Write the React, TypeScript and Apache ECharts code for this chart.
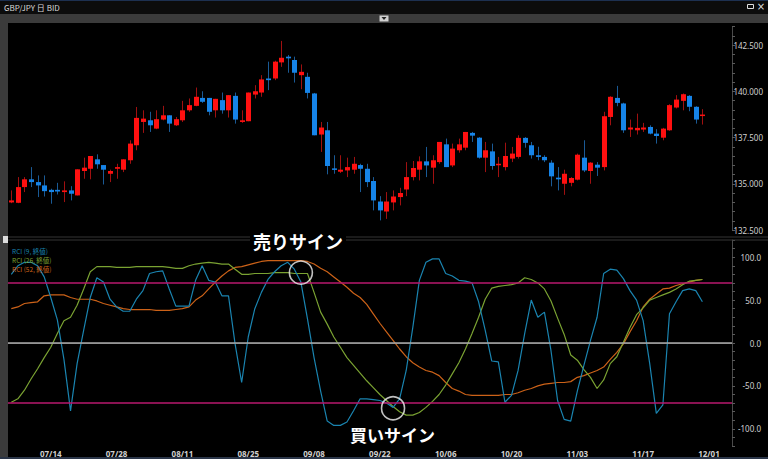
import React, { useEffect, useRef } from 'react';
import * as echarts from 'echarts';

// ---- data ----
const tickLabels = ['07/14', '07/28', '08/11', '08/25', '09/08', '09/22', '10/06', '10/20', '11/03', '11/17', '12/01'];

const opens = [133.99, 133.97, 134.82, 135.24, 135.09, 134.91, 134.67, 134.67, 134.55, 134.64, 134.37, 135.69, 135.81, 136.32, 136.01, 135.54, 135.81, 135.76, 136.27, 137.08, 138.34, 138.43, 137.98, 138.47, 138.70, 138.16, 138.43, 138.97, 139.21, 139.64, 139.64, 138.97, 139.52, 138.97, 139.75, 138.34, 138.38, 139.82, 139.93, 140.69, 140.69, 141.56, 141.87, 141.69, 140.87, 140.78, 139.88, 137.66, 137.89, 135.83, 135.65, 135.72, 135.76, 136.01, 135.81, 135.15, 134.04, 133.50, 133.99, 134.28, 134.69, 135.36, 135.76, 136.21, 135.87, 136.17, 137.13, 135.99, 136.81, 136.95, 137.75, 137.49, 136.41, 136.75, 136.03, 135.90, 136.36, 136.45, 137.48, 137.08, 136.54, 136.45, 136.14, 135.33, 135.00, 135.05, 135.22, 136.41, 135.69, 136.03, 135.90, 138.61, 139.64, 139.34, 137.93, 137.89, 137.93, 138.07, 137.71, 137.49, 137.89, 139.12, 139.48, 139.75, 139.16, 138.69];
const closes = [134.10, 134.82, 135.24, 135.09, 134.91, 134.60, 134.55, 134.58, 134.64, 134.46, 135.78, 135.87, 136.50, 136.05, 135.76, 135.69, 135.90, 136.32, 137.17, 138.56, 138.52, 138.16, 138.49, 138.70, 138.25, 138.49, 138.97, 139.25, 139.70, 139.43, 138.89, 139.59, 138.97, 139.79, 138.47, 138.43, 139.93, 140.00, 140.64, 140.60, 141.60, 141.81, 141.78, 141.00, 141.05, 139.91, 137.62, 138.04, 135.96, 135.78, 135.76, 135.90, 136.08, 135.81, 135.09, 134.10, 133.56, 134.04, 134.31, 134.50, 135.36, 135.85, 136.21, 135.99, 136.27, 137.26, 135.90, 136.90, 137.13, 137.80, 137.60, 136.41, 136.81, 135.96, 136.08, 136.50, 136.63, 137.48, 137.21, 136.54, 136.45, 136.27, 135.40, 135.24, 135.54, 135.31, 136.57, 135.72, 136.14, 135.87, 138.65, 139.70, 139.37, 137.89, 138.04, 138.02, 138.04, 137.71, 137.58, 137.98, 139.25, 139.55, 139.84, 139.16, 138.47, 138.74];
const lows = [133.95, 133.95, 134.55, 134.82, 134.28, 134.31, 133.92, 134.42, 134.01, 134.10, 134.37, 135.27, 135.24, 135.81, 134.96, 135.09, 135.27, 135.63, 136.08, 136.81, 137.75, 137.80, 137.95, 138.43, 137.80, 138.12, 138.34, 138.89, 139.19, 139.37, 138.70, 138.58, 138.79, 138.58, 138.25, 138.29, 138.38, 139.61, 139.70, 140.06, 140.60, 141.32, 141.00, 140.47, 140.11, 139.61, 137.62, 136.72, 135.51, 135.54, 135.58, 135.36, 135.54, 134.55, 134.82, 133.56, 133.02, 133.10, 133.56, 133.83, 134.33, 135.18, 135.18, 135.36, 135.00, 136.08, 135.90, 135.90, 136.68, 136.81, 137.26, 136.36, 135.63, 135.76, 135.36, 135.72, 136.17, 136.36, 136.95, 136.36, 136.27, 136.17, 134.86, 134.64, 134.40, 134.86, 135.18, 135.63, 135.00, 135.42, 135.72, 138.16, 139.19, 137.75, 137.53, 137.66, 137.80, 137.67, 137.17, 137.35, 137.86, 139.07, 138.97, 138.92, 138.25, 138.20];
const highs = [134.64, 135.36, 135.36, 135.90, 135.45, 135.45, 134.73, 135.05, 135.13, 134.87, 135.78, 136.41, 136.50, 136.59, 136.01, 135.76, 136.08, 136.32, 137.35, 139.15, 138.97, 138.89, 138.97, 139.21, 138.70, 138.61, 139.48, 139.61, 140.20, 140.00, 139.64, 139.59, 139.93, 139.79, 139.93, 138.97, 139.93, 140.33, 140.87, 141.60, 141.65, 142.72, 141.96, 141.87, 141.45, 141.00, 139.91, 138.34, 138.34, 136.54, 136.54, 136.41, 136.45, 136.08, 136.08, 135.36, 134.33, 134.55, 134.64, 134.78, 136.17, 136.23, 136.48, 136.99, 136.54, 137.26, 137.44, 137.17, 137.44, 137.80, 137.80, 137.52, 137.26, 137.17, 136.45, 137.22, 136.99, 137.62, 137.52, 137.26, 137.00, 136.54, 136.27, 135.90, 135.76, 135.36, 136.63, 137.35, 136.17, 136.17, 138.89, 139.73, 140.29, 139.38, 138.47, 138.79, 138.29, 138.16, 137.95, 138.02, 139.30, 139.79, 139.88, 139.79, 139.19, 139.03];

const rci9 = [80, 90, 94, 94, 90, 77, 53, 27, -19, -79, -24, 15, 53, 76, 71, 51, 42, 37, 37, 51, 61, 81, 83, 84, 63, 43, 43, 43, 73, 90, 73, 71, 55, 55, -1, -46, 7, 40, 59, 74, 83, 90, 94, 86, 71, 28, -17, -56, -91, -96, -96, -92, -79, -65, -65, -66, -67, -70, -75, -65, -32, 18, 73, 94, 98, 98, 81, 78, 73, 72, 70, 48, 15, -21, -22, -69, -61, -32, 11, 50, 30, 36, -9, -67, -89, -91, -56, -26, 3, 30, 81, 86, 85, 75, 61, 50, 26, -24, -82, -72, 34, 48, 61, 63, 61, 48];
const rci26 = [-69, -65, -55, -42, -30, -17, -5, 11, 26, 30, 44, 63, 83, 89, 89, 89, 88, 88, 88, 89, 89, 89, 89, 89, 88, 87, 87, 90, 92, 93, 94, 93, 92, 92, 86, 80, 80, 81, 81, 81, 82, 82, 82, 81, 81, 81, 59, 36, 22, 7, -5, -17, -26, -35, -44, -52, -60, -67, -74, -80, -84, -84, -81, -75, -68, -60, -49, -36, -23, -7, 11, 30, 51, 64, 66, 67, 68, 70, 76, 74, 70, 63, 49, 29, 10, -14, -20, -31, -40, -53, -43, -24, -16, 1, 18, 33, 41, 50, 53, 56, 59, 63, 68, 72, 73, 74];
const rci52 = [40, 42, 46, 47, 48, 55, 56, 56, 56, 53, 51, 51, 51, 49, 46, 44, 42, 40, 39, 39, 39, 39, 38, 38, 38, 39, 40, 42, 50, 55, 63, 71, 78, 84, 88, 89, 91, 93, 95, 96, 96, 96, 96, 96, 96, 95, 92, 87, 83, 77, 71, 65, 58, 53, 45, 34, 23, 13, 3, -7, -16, -23, -28, -32, -34, -38, -46, -53, -56, -60, -61, -61, -61, -61, -61, -60, -60, -58, -55, -53, -50, -48, -47, -46, -46, -45, -40, -38, -35, -32, -28, -19, -11, -1, 13, 26, 42, 51, 57, 63, 64, 67, 69, 71, 73, 74];

const signalLevels = [70, -70];
const sellSign = [44, 82];
const buySign = [58, -76];

// weekday categories from 2020-07-06 (incl. a few empty future days)
const dates: string[] = [];
{
  const d = new Date(Date.UTC(2020, 6, 6));
  while (dates.length < 110) {
    const wd = d.getUTCDay();
    if (wd !== 0 && wd !== 6) {
      const mm = String(d.getUTCMonth() + 1).padStart(2, '0');
      const dd = String(d.getUTCDate()).padStart(2, '0');
      dates.push(`${mm}/${dd}`);
    }
    d.setUTCDate(d.getUTCDate() + 1);
  }
}

const C_UP = '#ff1010';
const C_DOWN = '#1684e8';
const W_UP = '#a01010';
const W_DOWN = '#1a5a95';
const C9 = '#1a84b0';
const C26 = '#7aa232';
const C52 = '#cc6218';
const MAGENTA = '#b8186e';
const AX = '#4a4a4a';
const LBL = '#d0d0d0';

export default function App() {
  const ref = useRef<HTMLDivElement>(null);
  useEffect(() => {
    const chart = echarts.init(ref.current!, null, { renderer: 'svg' });
    const candleData = opens.map((o, i) => [i, o, closes[i], lows[i], highs[i]]);
    const showTick = (idx: number, val: string) => tickLabels.includes(val);

    const option: any = {
      animation: false,
      backgroundColor: '#000',
      grid: [
        { left: 8, top: 26.5, width: 724, height: 203.5 },
        { left: 8, top: 240, width: 724, height: 206 },
        { left: 8, top: 240, width: 724, height: 206 },
      ],
      xAxis: [
        { type: 'category', gridIndex: 0, data: dates, show: false },
        {
          type: 'category', gridIndex: 1, data: dates,
          axisLine: { lineStyle: { color: '#5a5a5a' } },
          axisTick: { inside: true, length: 5, alignWithLabel: true, interval: showTick, lineStyle: { color: '#6a6a6a' } },
          axisLabel: { interval: showTick, color: LBL, fontSize: 8, fontWeight: 'bold', margin: 3, fontFamily: 'Noto Sans' },
          splitLine: { show: false },
        },
        {
          type: 'category', gridIndex: 2, data: dates,
          axisLine: { show: false },
          axisTick: { inside: true, length: 2, alignWithLabel: true, interval: 1, lineStyle: { color: '#5a5a5a' } },
          axisLabel: { show: false },
          splitLine: { show: false },
        },
      ],
      yAxis: [
        {
          type: 'value', gridIndex: 0, position: 'right', min: 132.5, max: 143.5, interval: 0.5,
          axisLine: { show: true, lineStyle: { color: AX } },
          axisTick: { show: true, length: 3, lineStyle: { color: '#5a5a5a' } },
          axisLabel: {
            color: LBL, fontSize: 8, align: 'right', margin: 31, fontFamily: 'Noto Sans',
            formatter: (v: number) => (Math.abs(v / 2.5 - Math.round(v / 2.5)) < 1e-6 ? v.toFixed(3) : ''),
          },
          splitLine: { show: false },
        },
        {
          type: 'value', gridIndex: 1, position: 'right', min: -120, max: 120, interval: 10,
          axisLine: { show: true, lineStyle: { color: AX } },
          axisTick: { show: true, length: 3, lineStyle: { color: '#5a5a5a' } },
          axisLabel: {
            color: LBL, fontSize: 8, align: 'right', margin: 29, fontFamily: 'Noto Sans',
            formatter: (v: number) => (Math.abs(v) <= 100 && Math.round(v) % 50 === 0 ? v.toFixed(1) : ''),
          },
          splitLine: { show: false },
        },
        { type: 'value', gridIndex: 2, min: -120, max: 120, show: false },
      ],
      series: [
        {
          type: 'custom', name: 'GBP/JPY', xAxisIndex: 0, yAxisIndex: 0,
          data: candleData,
          encode: { x: 0, y: [1, 2, 3, 4] },
          renderItem: (params: any, api: any) => {
            const i = api.value(0);
            const o = api.value(1), c = api.value(2), l = api.value(3), h = api.value(4);
            const po = api.coord([i, o]);
            const pc = api.coord([i, c]);
            const pl = api.coord([i, l]);
            const ph = api.coord([i, h]);
            const up = c >= o;
            const w = 5;
            const x = Math.round(po[0]);
            const top = Math.min(po[1], pc[1]);
            const hh = Math.max(1.5, Math.abs(po[1] - pc[1]));
            return {
              type: 'group',
              children: [
                { type: 'line', shape: { x1: x + 0.5, y1: ph[1], x2: x + 0.5, y2: pl[1] }, style: { stroke: up ? W_UP : W_DOWN, lineWidth: 1 } },
                { type: 'rect', shape: { x: x + 0.5 - w / 2, y: top, width: w, height: hh }, style: { fill: up ? C_UP : C_DOWN } },
              ],
            };
          },
        },
        {
          type: 'line', name: 'RCI (52, 終値)', xAxisIndex: 1, yAxisIndex: 1, data: rci52,
          showSymbol: false, symbol: 'none', lineStyle: { color: C52, width: 1.2 }, itemStyle: { color: C52 },
          markLine: {
            silent: true, symbol: ['none', 'none'], label: { show: false },
            data: [
              ...signalLevels.map((v) => ({ yAxis: v, lineStyle: { color: MAGENTA, width: 1.5, type: 'solid' } })),
              { yAxis: 0, lineStyle: { color: '#a8a8a8', width: 1.5, type: 'solid' } },
            ],
          },
          z: 2,
        },
        {
          type: 'line', name: 'RCI (26, 終値)', xAxisIndex: 1, yAxisIndex: 1, data: rci26,
          showSymbol: false, symbol: 'none', lineStyle: { color: C26, width: 1.2 }, itemStyle: { color: C26 }, z: 3,
        },
        {
          type: 'line', name: 'RCI (9, 終値)', xAxisIndex: 1, yAxisIndex: 1, data: rci9,
          showSymbol: false, symbol: 'none', lineStyle: { color: C9, width: 1.2 }, itemStyle: { color: C9 }, z: 4,
        },
        {
          type: 'scatter', name: 'signs', xAxisIndex: 1, yAxisIndex: 1,
          data: [sellSign, buySign], symbol: 'circle', symbolSize: 23,
          itemStyle: { color: 'rgba(0,0,0,0)', borderColor: '#f0f0f0', borderWidth: 1.6 }, z: 10, silent: true,
        },
      ],
      graphic: [
        { type: 'rect', shape: { x: 0, y: 0, width: 768, height: 14 }, style: { fill: '#0c0c0c' }, z: 50 },
        { type: 'rect', shape: { x: 0, y: 0, width: 768, height: 1 }, style: { fill: '#1d3050' }, z: 51 },
        { type: 'text', style: { text: 'GBP/JPY 日 BID', x: 4, y: 7, fill: '#d8d8d8', fontSize: 8, fontFamily: 'Noto Sans CJK JP', verticalAlign: 'middle' }, z: 52 },
        { type: 'rect', shape: { x: 747.5, y: 4.5, width: 6, height: 4 }, style: { fill: 'none', stroke: '#dddddd', lineWidth: 1 }, z: 52 },
        { type: 'text', style: { text: '×', x: 761, y: 6.5, fill: '#dddddd', fontSize: 10, fontFamily: 'DejaVu Sans', align: 'center', verticalAlign: 'middle' }, z: 52 },
        { type: 'rect', shape: { x: 0, y: 14, width: 768, height: 9 }, style: { fill: '#3b3b3b' }, z: 50 },
        { type: 'rect', shape: { x: 379.5, y: 15.5, width: 9, height: 6 }, style: { fill: '#d0d0d0' }, z: 51 },
        { type: 'polygon', shape: { points: [[381.5, 17], [386.5, 17], [384, 20]] }, style: { fill: '#222' }, z: 52 },
        { type: 'rect', shape: { x: 0, y: 14, width: 8, height: 445 }, style: { fill: '#3b3b3b' }, z: 50 },
        { type: 'rect', shape: { x: 8, y: 236.5, width: 760, height: 1 }, style: { fill: '#353535' }, z: 50 },
        { type: 'rect', shape: { x: 8, y: 239.5, width: 760, height: 1 }, style: { fill: '#353535' }, z: 50 },
        { type: 'rect', shape: { x: 3, y: 236, width: 5, height: 7 }, style: { fill: '#dcdcdc' }, z: 51 },
        { type: 'rect', shape: { x: 0, y: 457, width: 768, height: 2 }, style: { fill: '#2a3548' }, z: 50 },
        { type: 'text', style: { text: 'RCI (9, 終値)', x: 12, y: 250.5, fill: C9, fontSize: 6.5, fontFamily: 'Noto Sans CJK JP', verticalAlign: 'middle' }, z: 60 },
        { type: 'text', style: { text: 'RCI (26, 終値)', x: 12, y: 259.5, fill: C26, fontSize: 6.5, fontFamily: 'Noto Sans CJK JP', verticalAlign: 'middle' }, z: 60 },
        { type: 'text', style: { text: 'RCI (52, 終値)', x: 12, y: 268.5, fill: C52, fontSize: 6.5, fontFamily: 'Noto Sans CJK JP', verticalAlign: 'middle' }, z: 60 },
        { type: 'text', style: { text: '売りサイン', x: 298, y: 241, fill: '#ffffff', fontSize: 18, fontWeight: 'bold', fontFamily: 'Noto Sans CJK JP', align: 'center', verticalAlign: 'middle', backgroundColor: '#000', padding: [0, 3] }, z: 70 },
        { type: 'text', style: { text: '買いサイン', x: 392.5, y: 434, fill: '#ffffff', fontSize: 17, fontWeight: 'bold', fontFamily: 'Noto Sans CJK JP', align: 'center', verticalAlign: 'middle' }, z: 70 },
      ],
    };
    chart.setOption(option);
    return () => chart.dispose();
  }, []);
  return <div ref={ref} style={{ position: 'fixed', left: 0, top: 0, width: 768, height: 459 }} />;
}
